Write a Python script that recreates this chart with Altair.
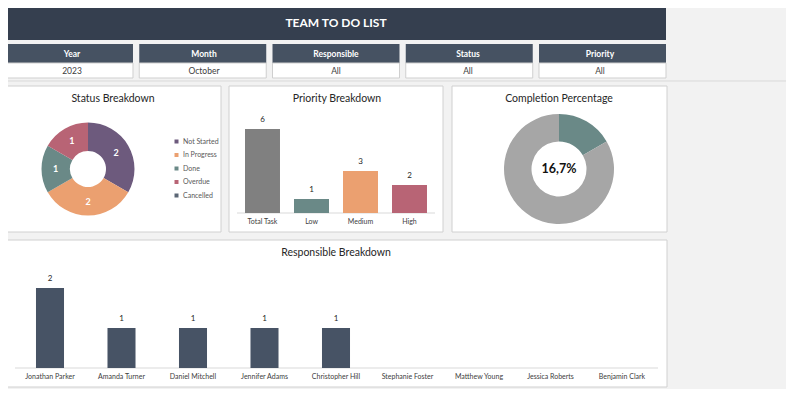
import altair as alt
import pandas as pd

FONT = "Lato"

# ---------------- data ----------------
dashboard_title = "TEAM TO DO LIST"
filter_fields = ["Year", "Month", "Responsible", "Status", "Priority"]
filter_values = ["2023", "October", "All", "All", "All"]

status_labels = ["Not Started", "In Progress", "Done", "Overdue", "Cancelled"]
status_counts = [2, 2, 1, 1, 0]
status_colors = ["#6d5a7d", "#eba070", "#6a8987", "#b86475", "#5b6675"]

priority_labels = ["Total Task", "Low", "Medium", "High"]
priority_counts = [6, 1, 3, 2]
priority_colors = ["#808080", "#6a8987", "#eba070", "#b86475"]

completion_labels = ["Done", "Remaining"]
completion_counts = [1, 5]
completion_colors = ["#6a8987", "#a6a6a6"]

responsible_names = ["Jonathan Parker", "Amanda Turner", "Daniel Mitchell", "Jennifer Adams",
                     "Christopher Hill", "Stephanie Foster", "Matthew Young", "Jessica Roberts",
                     "Benjamin Clark"]
responsible_counts = [2, 1, 1, 1, 1, 0, 0, 0, 0]

panel_titles = ["Status Breakdown", "Priority Breakdown", "Completion Percentage", "Responsible Breakdown"]

# ---------------- tables ----------------
df_filters = pd.DataFrame({"field": filter_fields, "value": filter_values})
df_status = pd.DataFrame({"status": status_labels, "count": status_counts,
                          "idx": list(range(len(status_labels)))})
df_priority = pd.DataFrame({"label": priority_labels, "count": priority_counts})
df_completion = pd.DataFrame({"part": completion_labels, "count": completion_counts,
                              "idx": list(range(len(completion_labels)))})
pct = completion_counts[0] / sum(completion_counts) * 100
df_pct = pd.DataFrame({"txt": [f"{pct:.1f}".replace(".", ",") + "%"]})
df_resp = pd.DataFrame({"name": responsible_names, "count": responsible_counts})

W, H = 778, 381


def px(v):
    return v - 8  # page pixel -> chart pixel


one = alt.Data(values=[{"k": 1}])


def box(x0, y0, x1, y1, fill, stroke=None, sw=1):
    kw = dict(fill=fill, strokeWidth=sw)
    if stroke:
        kw["stroke"] = stroke
    return alt.Chart(one).mark_rect(**kw).encode(
        x=alt.value(px(x0)), x2=alt.value(px(x1)), y=alt.value(px(y0)), y2=alt.value(px(y1)))


def label(txt, x, y, size, color, weight="normal"):
    return alt.Chart(one).mark_text(font=FONT, fontSize=size, color=color, fontWeight=weight,
                                    align="center", baseline="middle").encode(
        x=alt.value(px(x)), y=alt.value(px(y)), text=alt.value(txt))


def hline(x0, x1, y, color):
    return alt.Chart(one).mark_rule(color=color, strokeWidth=1).encode(
        x=alt.value(px(x0)), x2=alt.value(px(x1)), y=alt.value(px(y)))


layers = []

# header
layers.append(box(6, 6, 666, 40, "#353f4f"))
layers.append(label(dashboard_title, 336, 23, 12, "white", "bold"))
layers.append(hline(0, 794, 81, "#d9d9d9"))

# filters
fx = alt.X("field:N", sort=filter_fields, axis=None,
           scale=alt.Scale(domain=filter_fields, range=[px(6), px(666)],
                           paddingInner=0.047, paddingOuter=0))
fbase = alt.Chart(df_filters)
layers.append(fbase.mark_rect(fill="#465262").encode(x=fx, y=alt.value(px(44)), y2=alt.value(px(63))))
layers.append(fbase.mark_rect(fill="white", stroke="#cfcfcf", strokeWidth=1).encode(
    x=fx, y=alt.value(px(63)), y2=alt.value(px(78))))
layers.append(fbase.mark_text(font=FONT, fontSize=8.5, fontWeight="bold", color="white").encode(
    x=fx, y=alt.value(px(53.5)), text="field:N"))
layers.append(fbase.mark_text(font=FONT, fontSize=8.5, color="#404040").encode(
    x=fx, y=alt.value(px(71)), text="value:N"))

# panels
PB = "#d0d0d0"
layers.append(box(6, 86, 221, 232, "white", PB))
layers.append(box(229, 86, 443, 232, "white", PB))
layers.append(box(452, 86, 667, 232, "white", PB))
layers.append(box(6, 240, 667, 387, "white", PB))
TC = "#262626"
layers.append(label(panel_titles[0], 113, 99, 10.5, TC))
layers.append(label(panel_titles[1], 337, 99, 10.5, TC))
layers.append(label(panel_titles[2], 559, 99, 10.5, TC))
layers.append(label(panel_titles[3], 336, 253, 10.5, TC))

# status donut
scx, scy = 88, 169
sbase = alt.Chart(df_status)
layers.append(sbase.mark_arc(innerRadius=18, outerRadius=46.5).encode(
    theta=alt.Theta("count:Q", stack=True),
    order=alt.Order("idx:Q"),
    color=alt.Color("status:N", scale=alt.Scale(domain=status_labels, range=status_colors),
                    legend=alt.Legend(orient="none", legendX=px(173), legendY=px(138), title=None,
                                      direction="vertical", symbolType="square", symbolSize=16,
                                      symbolStrokeWidth=0, labelFont=FONT, labelFontSize=7,
                                      labelColor="#595959", labelOffset=3, rowPadding=5.5,
                                      padding=0, offset=0)),
    x=alt.value(px(scx)), y=alt.value(px(scy))))
layers.append(sbase.transform_filter("datum.count > 0").mark_text(
    radius=32.5, font=FONT, fontSize=9, fontWeight="bold", color="white").encode(
    theta=alt.Theta("count:Q", stack=True), order=alt.Order("idx:Q"), text="count:Q",
    x=alt.value(px(scx)), y=alt.value(px(scy))))

# priority bars
pxs = alt.X("label:N", sort=priority_labels, axis=None,
            scale=alt.Scale(domain=priority_labels, range=[px(238), px(434)],
                            paddingInner=0.286, paddingOuter=0.143))
pys = alt.Y("count:Q", axis=None,
            scale=alt.Scale(domain=[0, max(priority_counts)], range=[px(213), px(129)], nice=False))
pbase = alt.Chart(df_priority)
layers.append(hline(237, 435, 213, "#d9d9d9"))
layers.append(pbase.mark_bar().encode(
    x=pxs, y=pys,
    color=alt.Color("label:N", scale=alt.Scale(domain=priority_labels, range=priority_colors), legend=None)))
layers.append(pbase.mark_text(font=FONT, fontSize=8, color="#262626", dy=-9).encode(
    x=pxs, y=pys, text="count:Q"))
layers.append(pbase.mark_text(font=FONT, fontSize=7, color="#404040").encode(
    x=pxs, y=alt.value(px(222)), text="label:N"))

# completion donut
ccx, ccy = 559, 169
cbase = alt.Chart(df_completion)
layers.append(cbase.mark_arc(innerRadius=27.5, outerRadius=55).encode(
    theta=alt.Theta("count:Q", stack=True), order=alt.Order("idx:Q"),
    color=alt.Color("part:N", scale=alt.Scale(domain=completion_labels, range=completion_colors), legend=None),
    x=alt.value(px(ccx)), y=alt.value(px(ccy))))
layers.append(alt.Chart(df_pct).mark_text(font=FONT, fontSize=12.5, fontWeight="bold", color="#111111").encode(
    x=alt.value(px(ccx)), y=alt.value(px(ccy)), text="txt:N"))

# responsible bars
rxs = alt.X("name:N", sort=responsible_names, axis=None,
            scale=alt.Scale(domain=responsible_names, range=[px(14.25), px(657.75)],
                            paddingInner=0.608, paddingOuter=0.304))
rys = alt.Y("count:Q", axis=None,
            scale=alt.Scale(domain=[0, max(responsible_counts)], range=[px(368), px(288)], nice=False))
rbase = alt.Chart(df_resp)
layers.append(hline(15, 658, 368, "#d9d9d9"))
layers.append(rbase.mark_bar(fill="#475365").encode(x=rxs, y=rys))
layers.append(rbase.transform_filter("datum.count > 0").mark_text(
    font=FONT, fontSize=8, color="#262626", dy=-9).encode(x=rxs, y=rys, text="count:Q"))
layers.append(rbase.mark_text(font=FONT, fontSize=7, color="#404040").encode(
    x=rxs, y=alt.value(px(377)), text="name:N"))

chart = alt.layer(*layers).resolve_scale(
    x="independent", y="independent", color="independent", theta="independent"
).properties(
    width=W, height=H, padding=0, background="#f2f2f2",
    autosize=alt.AutoSizeParams(type="none")
).configure_view(stroke=None)

chart.save("out.html", embed_options={"renderer": "svg", "actions": False})
